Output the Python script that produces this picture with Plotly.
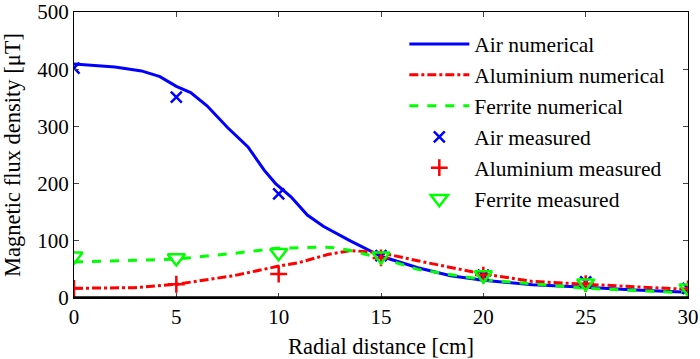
import plotly.graph_objects as go

# Numerical curves
air_num_x = [0, 2, 3.3, 4.2, 5, 5.7, 6.5, 7.5, 8.5, 9.3, 9.85, 10.6, 11.4, 12.2, 13.5, 15, 16.8, 18.4, 20, 22.4, 25, 27.4, 30]
air_num_y = [409, 404, 397, 387, 370, 359, 336, 298, 264, 223, 200, 177, 145, 125, 100, 73, 53, 39, 31, 23, 19, 14, 10]

al_num_x = [0, 2.9, 5, 7.8, 9.9, 11, 12.4, 13.5, 15, 16.8, 20, 22.4, 25, 27.4, 30]
al_num_y = [17, 18, 24, 39, 55, 62, 76, 83, 79, 65, 42, 29, 24, 20, 15]

fe_num_x = [0, 5, 7.8, 9.9, 12, 12.7, 13.5, 15, 16.8, 20, 25, 30]
fe_num_y = [63, 68, 78, 87, 89, 88, 83, 70, 50, 32, 17, 9]

# Measured points
meas_x = [0, 5, 10, 15, 20, 25, 30]
air_meas = [402, 351, 182, 74, 40, 28, 17]
al_meas = [17, 24, 42, 70, 40, 25, 16]
fe_meas = [73, 70, 79, 73, 40, 26, 17]

x_ticks = [0, 5, 10, 15, 20, 25, 30]
y_ticks = [0, 100, 200, 300, 400, 500]

FONT = "Liberation Serif"


def f(size):
    return dict(family=FONT, size=size, color="black")


fig = go.Figure()
fig.add_trace(go.Scatter(x=air_num_x, y=air_num_y, mode="lines", name="Air numerical",
                         line=dict(color="#0000FF", width=3)))
fig.add_trace(go.Scatter(x=al_num_x, y=al_num_y, mode="lines", name="Aluminium numerical",
                         line=dict(color="#FF0000", width=3, dash="dashdot")))
fig.add_trace(go.Scatter(x=fe_num_x, y=fe_num_y, mode="lines", name="Ferrite numerical",
                         line=dict(color="#00FF00", width=3, dash="dash")))
fig.add_trace(go.Scatter(x=meas_x, y=air_meas, mode="markers", name="Air measured",
                         marker=dict(symbol="x-thin", size=11, color="#0000FF",
                                     line=dict(color="#0000FF", width=2.5))))
fig.add_trace(go.Scatter(x=meas_x, y=al_meas, mode="markers", name="Aluminium measured",
                         marker=dict(symbol="cross-thin", size=12, color="#FF0000",
                                     line=dict(color="#FF0000", width=2.5))))
fig.add_trace(go.Scatter(x=meas_x, y=fe_meas, mode="markers", name="Ferrite measured",
                         marker=dict(symbol="triangle-down-open", size=15, color="#00FF00",
                                     line=dict(color="#00FF00", width=2.5))))

fig.add_shape(type="line", xref="x", yref="y", x0=0, x1=30, y0=0, y1=0,
              line=dict(color="black", width=3.5))

fig.update_layout(
    width=700, height=359,
    margin=dict(l=74, r=12, t=12, b=61),
    paper_bgcolor="white", plot_bgcolor="white",
    font=f(21),
    showlegend=True,
    legend=dict(x=0.538, y=0.96, xanchor="left", yanchor="top",
                bgcolor="rgba(0,0,0,0)", font=f(21.5),
                itemwidth=60, tracegroupgap=0),
    xaxis=dict(range=[0, 30], tickvals=x_ticks, ticks="inside", ticklen=5,
               showline=True, linecolor="black", linewidth=1, mirror="ticks",
               showgrid=False, zeroline=False, automargin=False,
               ticklabeloverflow="allow",
               title=dict(text="Radial distance [cm]", font=f(22.5)),
               tickfont=f(21)),
    yaxis=dict(range=[0, 500], tickvals=y_ticks, ticks="inside", ticklen=5,
               showline=True, linecolor="black", linewidth=1, mirror="ticks",
               showgrid=False, zeroline=False, automargin=False,
               ticklabeloverflow="allow",
               title=dict(text="Magnetic flux density [μT]", font=f(22.5)),
               tickfont=f(21)),
)

fig.write_html("out.html", config={"displayModeBar": False},
               post_script="document.body.style.margin='0';")
